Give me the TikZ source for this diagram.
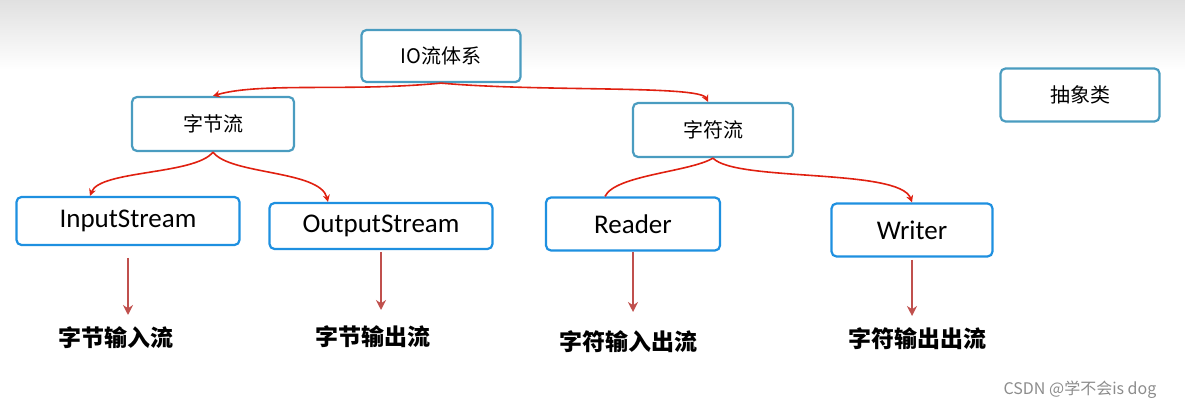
\documentclass[tikz,border=0pt]{standalone}
\usepackage{fontspec}
\setmainfont{Carlito}
\newfontfamily\cjk{Noto Sans CJK SC}
\usetikzlibrary{arrows.meta}
\definecolor{teal}{HTML}{4A9CC0}
\definecolor{blu}{HTML}{1E90E0}
\definecolor{arr}{HTML}{E02010}
\definecolor{brn}{HTML}{C0504D}
\begin{document}
\begin{tikzpicture}[x=1pt,y=-1pt,
  top/.style={draw=teal,line width=2.2pt,rounded corners=5pt,fill=white,font=\cjk\fontsize{20}{22}\selectfont},
  bot/.style={draw=blu,line width=2.2pt,rounded corners=5pt,fill=white,font=\fontsize{27}{30}\selectfont},
  lab/.style={font=\cjk\bfseries\fontsize{23}{26}\selectfont},
  ra/.style={draw=arr,line width=1.6pt,-{Stealth[length=7pt,width=7pt]}},
  ba/.style={draw=brn,line width=2.2pt,-{Stealth[length=10pt,width=10pt]}}]
\useasboundingbox (0,0) rectangle (1185,411);
\shade[top color=black!12,bottom color=white] (0,0) rectangle (1185,70);
\node[top,minimum width=159pt,minimum height=52pt] (io) at (441,56) {IO流体系};
\node[top,minimum width=159pt,minimum height=53pt] (abs) at (1080,95) {抽象类};
\node[top,minimum width=162pt,minimum height=54pt] (zj) at (213,124) {字节流};
\node[top,minimum width=160pt,minimum height=54pt] (zf) at (713,130) {字符流};
\node[bot,minimum width=223pt,minimum height=48pt] (is) at (128,221) {InputStream};
\node[bot,minimum width=223pt,minimum height=46pt] (os) at (381,226) {OutputStream};
\node[bot,minimum width=174pt,minimum height=53pt] (rd) at (633,224) {Reader};
\node[bot,minimum width=161pt,minimum height=53pt] (wr) at (912,230) {Writer};
\draw[ra] (io.south) .. controls (350,92) and (260,82) .. (zj.north);
\draw[ra] (io.south) .. controls (540,92) and (700,85) .. (zf.north -| 708,0);
\draw[ra] (zj.south) .. controls (195,175) and (100,170) .. (is.north -| 90,0);
\draw[ra] (zj.south) .. controls (230,175) and (320,170) .. (os.north -| 328,0);
\draw[draw=arr,line width=1.6pt] (zf.south) .. controls (690,172) and (615,175) .. (rd.north -| 605,0);
\draw[ra] (zf.south) .. controls (735,182) and (900,168) .. (wr.north);
\coordinate (a1) at (128,258); \coordinate (b1) at (128,315);
\coordinate (a2) at (381,252); \coordinate (b2) at (381,310);
\coordinate (a3) at (633,252); \coordinate (b3) at (633,312);
\coordinate (a4) at (912,260); \coordinate (b4) at (912,316);
\draw[ba] (a1)--(b1); \draw[ba] (a2)--(b2); \draw[ba] (a3)--(b3); \draw[ba] (a4)--(b4);
\node[lab] (l1) at (116,338) {字节输入流};
\node[lab] (l2) at (373,337) {字节输出流};
\node[lab] (l3) at (628,342) {字符输入出流};
\node[lab] (l4) at (917,339) {字符输出出流};
\node[font=\cjk\fontsize{16}{18}\selectfont,text=black!45] (wm) at (1080,390) {CSDN @学不会is dog};
\end{tikzpicture}
\end{document}
